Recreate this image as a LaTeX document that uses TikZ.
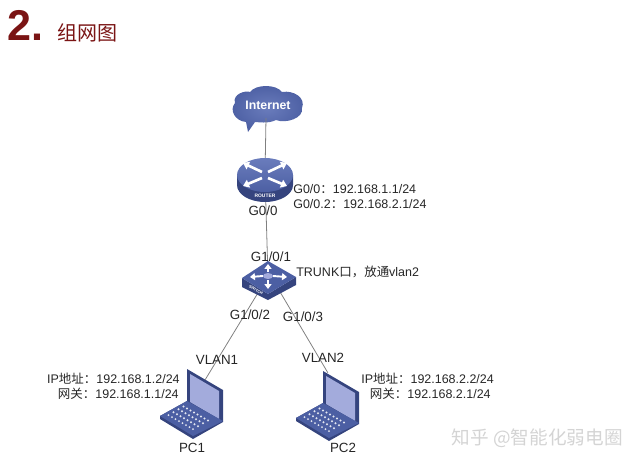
\documentclass[tikz,border=0pt]{standalone}
\usepackage{fontspec}
\setmainfont{Liberation Sans}
\newfontfamily\cjk{Noto Sans CJK SC}
\usetikzlibrary{arrows.meta}
\definecolor{titlered}{HTML}{7A1414}
\definecolor{devblue}{HTML}{4C5FA3}
\definecolor{devlight}{HTML}{6A7CBC}
\definecolor{devdark}{HTML}{35447E}
\definecolor{devscreen}{HTML}{A3ABDC}
\definecolor{linkgray}{HTML}{808080}
\definecolor{marktext}{HTML}{D4D4D4}
\tikzset{
  x=0.2mm,y=-0.2mm,
  lbl/.style={inner sep=0pt,text=black!85,font=\fontsize{7.1}{8.5}\selectfont},
  lblbig/.style={lbl,font=\fontsize{7.6}{9}\selectfont},
  link/.style={draw=linkgray,line width=0.45pt},
  dev/.style={inner sep=0pt,minimum size=0pt},
  wharrow/.style={draw=white,line width=1.5pt,-{Triangle[length=3.4pt,width=4.6pt]}},
  smarrow/.style={draw=white,line width=1.1pt,-{Triangle[length=2.8pt,width=4pt]}},
  pics/laptop/.style={code={
    \fill [devdark] (0,0) -- (36,21) -- (36,53) -- (6,70) -- (-27,50) -- (-27,47) -- (0,32) -- cycle;
    \fill [devscreen] (3,5) -- (32,22) -- (32,50) -- (3,33) -- cycle;
    \fill [devblue] (-27,47) -- (0,32) -- (36,52) -- (6,67) -- cycle;
    \foreach \i in {1,...,8}
      \foreach \j in {1,...,4}
        \fill [white!85!devblue] ({-27+\i*3.5+\j*5},{47+\i*2-\j*2.9}) circle (1.1);
  }},
  pics/router/.style={code={
    \fill [devdark] (-28,0) -- (-28,10) arc [start angle=180,end angle=0,x radius=28,y radius=17] -- (28,0) -- cycle;
    \shade [top color=devlight,bottom color=devblue] (0,0) ellipse [x radius=28,y radius=17];
    \draw [wharrow] (-3,-3) -- (-22,-12);
    \draw [wharrow] (3,-3) -- (22,-12);
    \draw [wharrow] (-3,3) -- (-22,11);
    \draw [wharrow] (3,3) -- (22,11);
    \node [text=white,inner sep=0pt,font=\fontsize{2.8}{3}\selectfont\bfseries] (routertag) at (0,21) {ROUTER};
  }},
  pics/swbox/.style={code={
    \fill [devdark] (-26,3) -- (0,19) -- (28,2) -- (28,10) -- (0,25) -- (-26,12) -- cycle;
    \fill [devblue] (0,-14) -- (28,2) -- (0,19) -- (-26,3) -- cycle;
    \draw [smarrow] (-5,1) -- (-18,2);
    \draw [smarrow] (5,1) -- (19,2);
    \draw [smarrow] (0,-3) -- (0,-11);
    \draw [smarrow] (0,5) -- (0,14);
    \fill [devscreen] (0,1) ellipse [x radius=5,y radius=3];
    \node [text=white,inner sep=0pt,rotate=-27,font=\fontsize{2.2}{3}\selectfont\bfseries] (swtag) at (-12,15) {SWITCH};
  }}
}

\begin{document}
\begin{tikzpicture}
  \useasboundingbox (0,0) rectangle (640,465);

  \node [anchor=west,inner sep=0pt,text=titlered,font=\fontsize{24.5}{26}\selectfont\bfseries] (titlenum) at (7,25) {2.};
  \node [anchor=west,inner sep=0pt,text=titlered,font=\fontsize{11.4}{13}\selectfont\cjk] (titletext) at (57,33) {组网图};

  % cloud
  \shade [inner color=devlight,outer color=devblue] (246,122) .. controls (235,121) and (229,110) .. (235,103)
    .. controls (232,94) and (246,90) .. (250,92)
    .. controls (256,84) and (276,84) .. (282,92)
    .. controls (294,90) and (306,98) .. (302,108)
    .. controls (304,118) and (286,124) .. (276,120)
    .. controls (268,124) and (258,122) .. (255,122)
    -- (248,132) -- cycle;
  \node [text=white,inner sep=0pt,font=\fontsize{7}{8}\selectfont\bfseries] (inet) at (268,105) {Internet};
  \coordinate (inetfoot) at (266,118);

  \node [dev] (router) at (265,175) {};
  \node [dev] (swtch) at (268,277) {};
  \coordinate (swleft) at (267,278);
  \coordinate (swright) at (273,280);
  \node [dev] (pc1) at (205,380) {};
  \node [dev] (pc2) at (328,373) {};

  \pic at (187,369) {laptop};
  \pic at (323,371) {laptop};

  \draw [link] (inetfoot) -- (router);
  \draw [link] (router) -- (swtch);
  \draw [link] (swleft) -- (pc1);
  \draw [link] (swright) -- (pc2);

  \pic at (265,175) {router};
  \pic at (268,275) {swbox};

  \node [lbl,anchor=west] (g00ip) at (293,189) {G0/0{\cjk ：}192.168.1.1/24};
  \node [lbl,anchor=west] (g002ip) at (293,204) {G0/0.2{\cjk ：}192.168.2.1/24};
  \node [lblbig] (g00) at (263,211) {G0/0};
  \node [lblbig] (g101) at (271,257) {G1/0/1};
  \node [lbl,anchor=west] (trunk) at (296,272) {TRUNK{\cjk 口，放通}vlan2};
  \node [lblbig] (g102) at (250,315) {G1/0/2};
  \node [lblbig] (g103) at (303,317) {G1/0/3};
  \node [lblbig] (vlan1) at (217,360) {VLAN1};
  \node [lblbig] (vlan2) at (323,358) {VLAN2};

  \node [lbl,anchor=east] (ip1) at (180,379) {IP{\cjk 地址：}192.168.1.2/24};
  \node [lbl,anchor=east] (gw1) at (179,394) {{\cjk 网关：}192.168.1.1/24};
  \node [lbl,anchor=west] (ip2) at (361,379) {IP{\cjk 地址：}192.168.2.2/24};
  \node [lbl,anchor=east] (gw2) at (491,394) {{\cjk 网关：}192.168.2.1/24};
  \node [lblbig] (pc1name) at (192,448) {PC1};
  \node [lblbig] (pc2name) at (343,448) {PC2};

  \node [anchor=east,inner sep=0pt,text=marktext,font=\fontsize{10.6}{12}\selectfont\cjk] (mark) at (623,438) {知乎 @智能化弱电圈};
\end{tikzpicture}
\end{document}
